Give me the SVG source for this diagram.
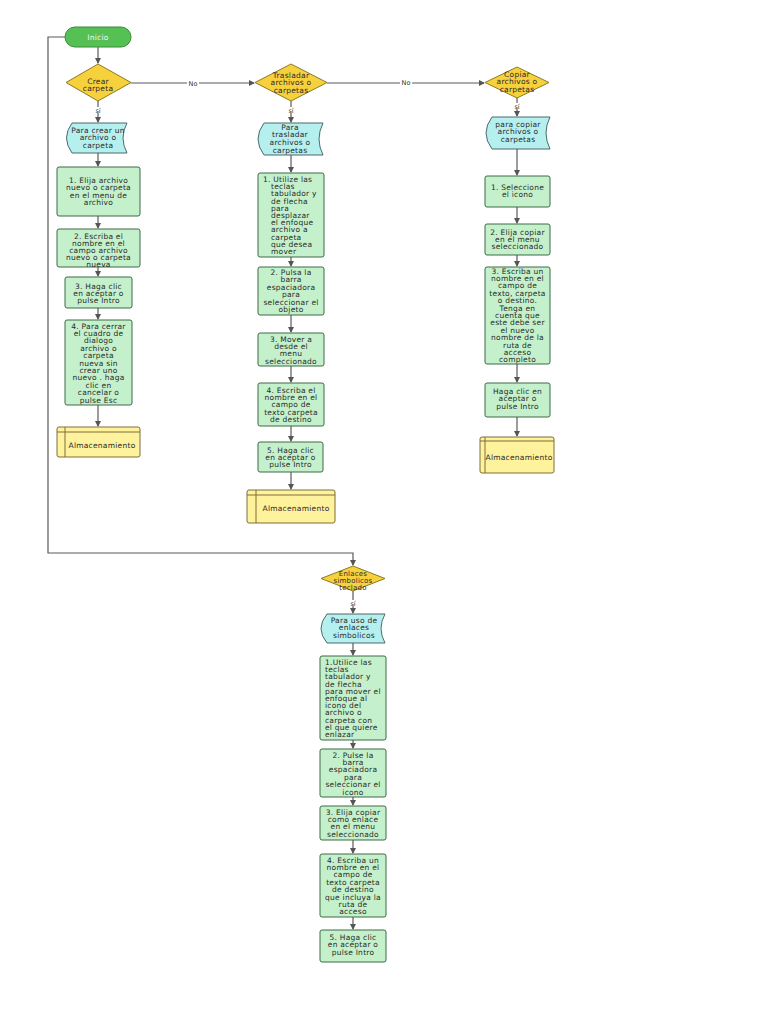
<svg xmlns="http://www.w3.org/2000/svg" width="768" height="1024" viewBox="0 0 768 1024">
<defs>
<marker id="ah" markerWidth="6" markerHeight="6" refX="5" refY="3" orient="auto" markerUnits="userSpaceOnUse">
<path d="M0,0 L6,3 L0,6 Z" fill="#555"/>
</marker>
<style>
.t{font-family:"DejaVu Sans","Liberation Sans",sans-serif;font-size:7.5px;letter-spacing:0.25px;fill:#2a2a2a;text-anchor:middle}
.l{text-anchor:start}
.d{font-size:7px;letter-spacing:0.2px}
.c{fill:none;stroke:#5a5a5a;stroke-width:1.2}
.lab{font-family:"DejaVu Sans","Liberation Sans",sans-serif;font-size:6.5px;fill:#333;text-anchor:middle}
.box{fill:#c4f1cb;stroke:#3e6b46;stroke-width:1}
.doc{fill:#b6f0ee;stroke:#4a6b6b;stroke-width:1}
.dia{fill:#f7d13c;stroke:#8c7a22;stroke-width:1}
.sto{fill:#fff29c;stroke:#7d6f3a;stroke-width:1}
.sl{fill:none;stroke:#7d6f3a;stroke-width:1}
</style>
</defs>
<rect width="768" height="1024" fill="#ffffff"/>

<g id="connectors">
<path class="c" d="M98,47 V63" marker-end="url(#ah)"/>
<path class="c" d="M98,101 V122" marker-end="url(#ah)"/>
<path class="c" d="M98,153 V166" marker-end="url(#ah)"/>
<path class="c" d="M98,216 V228" marker-end="url(#ah)"/>
<path class="c" d="M98,267 V276" marker-end="url(#ah)"/>
<path class="c" d="M98,308 V319" marker-end="url(#ah)"/>
<path class="c" d="M98,405 V426" marker-end="url(#ah)"/>
<path class="c" d="M131,83 H254" marker-end="url(#ah)"/>
<path class="c" d="M291,101 V122" marker-end="url(#ah)"/>
<path class="c" d="M291,155 V172" marker-end="url(#ah)"/>
<path class="c" d="M291,257 V266" marker-end="url(#ah)"/>
<path class="c" d="M291,315 V332" marker-end="url(#ah)"/>
<path class="c" d="M291,366 V382" marker-end="url(#ah)"/>
<path class="c" d="M291,426 V441" marker-end="url(#ah)"/>
<path class="c" d="M291,472 V489" marker-end="url(#ah)"/>
<path class="c" d="M327,83 H484" marker-end="url(#ah)"/>
<path class="c" d="M517,98 V116" marker-end="url(#ah)"/>
<path class="c" d="M517,149 V175" marker-end="url(#ah)"/>
<path class="c" d="M517,207 V223" marker-end="url(#ah)"/>
<path class="c" d="M517,255 V266" marker-end="url(#ah)"/>
<path class="c" d="M517,364 V382" marker-end="url(#ah)"/>
<path class="c" d="M517,417 V436" marker-end="url(#ah)"/>
<path class="c" d="M65,37 H48 V553 H353 V565" marker-end="url(#ah)"/>
<path class="c" d="M353,591 V613" marker-end="url(#ah)"/>
<path class="c" d="M353,643 V655" marker-end="url(#ah)"/>
<path class="c" d="M353,740 V748" marker-end="url(#ah)"/>
<path class="c" d="M353,797 V805" marker-end="url(#ah)"/>
<path class="c" d="M353,840 V853" marker-end="url(#ah)"/>
<path class="c" d="M353,917 V929" marker-end="url(#ah)"/>
<rect x="187" y="80" width="12" height="7" fill="#fff"/>
<text class="lab" x="193" y="85.5">No</text>
<rect x="400" y="79" width="12" height="7" fill="#fff"/>
<text class="lab" x="406" y="84.5">No</text>
<rect x="94" y="107" width="8" height="6" fill="#fff"/>
<text class="lab" x="98" y="112.5">sí</text>
<rect x="287" y="107" width="8" height="6" fill="#fff"/>
<text class="lab" x="291" y="112.5">sí</text>
<rect x="513" y="103" width="8" height="6" fill="#fff"/>
<text class="lab" x="517" y="108.5">sí</text>
<rect x="349" y="600" width="8" height="6" fill="#fff"/>
<text class="lab" x="353" y="605.5">sí</text>
</g>

<g id="inicio">
<rect x="65" y="27" width="66" height="20" rx="10" fill="#55c053" stroke="#3a8c39" stroke-width="1"/>
<text class="t" x="98" y="39.5" style="fill:#f8f8f8">Inicio</text>
</g>

<g id="crear-carpeta">
<polygon class="dia" points="98,64 131,82.5 98,101 66,82.5"/>
<text class="t" x="98" y="83.5">Crear</text>
<text class="t" x="98" y="91">carpeta</text>
</g>

<g id="para-crear">
<path class="doc" d="M72,123 H127 Q119,138 127,153 H72 Q61,138 72,123 Z"/>
<text class="t" x="98" y="132.5">Para crear un</text>
<text class="t" x="98" y="140">archivo o</text>
<text class="t" x="98" y="147.5">carpeta</text>
</g>

<g id="crear-1">
<rect class="box" x="57" y="167" width="83" height="49" rx="2"/>
<text class="t" x="98.5" y="183">1. Elija archivo</text>
<text class="t" x="98.5" y="190.4">nuevo o carpeta</text>
<text class="t" x="98.5" y="197.8">en el menu de</text>
<text class="t" x="98.5" y="205.2">archivo</text>
</g>

<g id="crear-2">
<rect class="box" x="57" y="229" width="83" height="38" rx="2"/>
<text class="t" x="98.5" y="238.5">2. Escriba el</text>
<text class="t" x="98.5" y="245.5">nombre en el</text>
<text class="t" x="98.5" y="252.5">campo archivo</text>
<text class="t" x="98.5" y="259.5">nuevo o carpeta</text>
<text class="t" x="98.5" y="266.5">nueva</text>
</g>

<g id="crear-3">
<rect class="box" x="65" y="277" width="67" height="31" rx="2"/>
<text class="t" x="98.5" y="288.5">3. Haga clic</text>
<text class="t" x="98.5" y="295.9">en aceptar o</text>
<text class="t" x="98.5" y="303.3">pulse Intro</text>
</g>

<g id="crear-4">
<rect class="box" x="65" y="320" width="67" height="85" rx="2"/>
<text class="t" x="98.5" y="328.5">4. Para cerrar</text>
<text class="t" x="98.5" y="335.9">el cuadro de</text>
<text class="t" x="98.5" y="343.3">dialogo</text>
<text class="t" x="98.5" y="350.7">archivo o</text>
<text class="t" x="98.5" y="358.1">carpeta</text>
<text class="t" x="98.5" y="365.5">nueva sin</text>
<text class="t" x="98.5" y="372.9">crear uno</text>
<text class="t" x="98.5" y="380.3">nuevo . haga</text>
<text class="t" x="98.5" y="387.7">clic en</text>
<text class="t" x="98.5" y="395.1">cancelar o</text>
<text class="t" x="98.5" y="402.5">pulse Esc</text>
</g>

<g id="crear-almacenamiento">
<rect class="sto" x="57" y="427" width="83" height="30" rx="2"/>
<path class="sl" d="M65,427 V457 M57,432 H140"/>
<text class="t" x="102" y="447.5">Almacenamiento</text>
</g>

<g id="trasladar">
<polygon class="dia" points="291,64 327,82.5 291,101 255,82.5"/>
<text class="t" x="291" y="77.5">Trasladar</text>
<text class="t" x="291" y="85">archivos o</text>
<text class="t" x="291" y="92.5">carpetas</text>
</g>

<g id="para-trasladar">
<path class="doc" d="M264,123 H323 Q315,139 323,155 H264 Q252,139 264,123 Z"/>
<text class="t" x="290" y="129.8">Para</text>
<text class="t" x="290" y="137.4">trasladar</text>
<text class="t" x="290" y="145">archivos o</text>
<text class="t" x="290" y="152.6">carpetas</text>
</g>

<g id="trasladar-1">
<rect class="box" x="258" y="173" width="66" height="84" rx="2"/>
<text class="t l" x="263" y="182">1. Utilize las</text>
<text class="t l" x="271" y="189.2">teclas</text>
<text class="t l" x="271" y="196.4">tabulador y</text>
<text class="t l" x="271" y="203.6">de flecha</text>
<text class="t l" x="271" y="210.8">para</text>
<text class="t l" x="271" y="218">desplazar</text>
<text class="t l" x="271" y="225.2">el enfoque</text>
<text class="t l" x="271" y="232.4">archivo a</text>
<text class="t l" x="271" y="239.6">carpeta</text>
<text class="t l" x="271" y="246.8">que desea</text>
<text class="t l" x="271" y="254">mover</text>
</g>

<g id="trasladar-2">
<rect class="box" x="258" y="267" width="66" height="48" rx="2"/>
<text class="t" x="291" y="275">2. Pulsa la</text>
<text class="t" x="291" y="282.4">barra</text>
<text class="t" x="291" y="289.8">espaciadora</text>
<text class="t" x="291" y="297.2">para</text>
<text class="t" x="291" y="304.6">seleccionar el</text>
<text class="t" x="291" y="312">objeto</text>
</g>

<g id="trasladar-3">
<rect class="box" x="258" y="333" width="66" height="33" rx="2"/>
<text class="t" x="291" y="341.5">3. Mover a</text>
<text class="t" x="291" y="348.9">desde el</text>
<text class="t" x="291" y="356.3">menu</text>
<text class="t" x="291" y="363.7">seleccionado</text>
</g>

<g id="trasladar-4">
<rect class="box" x="258" y="383" width="66" height="43" rx="2"/>
<text class="t" x="291" y="392.5">4. Escriba el</text>
<text class="t" x="291" y="399.9">nombre en el</text>
<text class="t" x="291" y="407.3">campo de</text>
<text class="t" x="291" y="414.7">texto carpeta</text>
<text class="t" x="291" y="422.1">de destino</text>
</g>

<g id="trasladar-5">
<rect class="box" x="258" y="442" width="65" height="30" rx="2"/>
<text class="t" x="290.5" y="452.5">5. Haga clic</text>
<text class="t" x="290.5" y="459.9">en aceptar o</text>
<text class="t" x="290.5" y="467.3">pulse Intro</text>
</g>

<g id="trasladar-almacenamiento">
<rect class="sto" x="247" y="490" width="88" height="33" rx="2"/>
<path class="sl" d="M256,490 V523 M247,495 H335"/>
<text class="t" x="296" y="511">Almacenamiento</text>
</g>

<g id="copiar">
<polygon class="dia" points="517,67 549,82.5 517,98 485,82.5"/>
<text class="t" x="517" y="76.5">Copiar</text>
<text class="t" x="517" y="84">archivos o</text>
<text class="t" x="517" y="91.5">carpetas</text>
</g>

<g id="para-copiar">
<path class="doc" d="M492,117 H550 Q542,133 550,149 H492 Q480,133 492,117 Z"/>
<text class="t" x="518" y="127">para copiar</text>
<text class="t" x="518" y="134.4">archivos o</text>
<text class="t" x="518" y="141.8">carpetas</text>
</g>

<g id="copiar-1">
<rect class="box" x="485" y="176" width="65" height="31" rx="2"/>
<text class="t" x="517.5" y="190">1. Seleccione</text>
<text class="t" x="517.5" y="197.4">el icono</text>
</g>

<g id="copiar-2">
<rect class="box" x="485" y="224" width="65" height="31" rx="2"/>
<text class="t" x="517.5" y="234.5">2. Elija copiar</text>
<text class="t" x="517.5" y="241.9">en el menu</text>
<text class="t" x="517.5" y="249.3">seleccionado</text>
</g>

<g id="copiar-3">
<rect class="box" x="485" y="267" width="65" height="97" rx="2"/>
<text class="t" x="517.5" y="273.5">3. Escriba un</text>
<text class="t" x="517.5" y="280.9">nombre en el</text>
<text class="t" x="517.5" y="288.3">campo de</text>
<text class="t" x="517.5" y="295.7">texto, carpeta</text>
<text class="t" x="517.5" y="303.1">o destino.</text>
<text class="t" x="517.5" y="310.5">Tenga en</text>
<text class="t" x="517.5" y="317.9">cuenta que</text>
<text class="t" x="517.5" y="325.3">este debe ser</text>
<text class="t" x="517.5" y="332.7">el nuevo</text>
<text class="t" x="517.5" y="340.1">nombre de la</text>
<text class="t" x="517.5" y="347.5">ruta de</text>
<text class="t" x="517.5" y="354.9">acceso</text>
<text class="t" x="517.5" y="362.3">completo</text>
</g>

<g id="copiar-4">
<rect class="box" x="485" y="383" width="65" height="34" rx="2"/>
<text class="t" x="517.5" y="394">Haga clic en</text>
<text class="t" x="517.5" y="401.4">aceptar o</text>
<text class="t" x="517.5" y="408.8">pulse Intro</text>
</g>

<g id="copiar-almacenamiento">
<rect class="sto" x="480" y="437" width="74" height="36" rx="2"/>
<path class="sl" d="M485,437 V473 M480,441 H554"/>
<text class="t" x="519" y="460">Almacenamiento</text>
</g>

<g id="enlaces">
<polygon class="dia" points="353,566 385,578.5 353,591 321,578.5"/>
<text class="t d" x="353" y="575.5">Enlaces</text>
<text class="t d" x="353" y="582.7">simbolicos</text>
<text class="t d" x="353" y="589.9">teclado</text>
</g>

<g id="para-enlaces">
<path class="doc" d="M327,614 H385 Q377,628.5 385,643 H327 Q315,628.5 327,614 Z"/>
<text class="t" x="354" y="623">Para uso de</text>
<text class="t" x="354" y="630.4">enlaces</text>
<text class="t" x="354" y="637.8">simbolicos</text>
</g>

<g id="enlaces-1">
<rect class="box" x="320" y="656" width="66" height="84" rx="2"/>
<text class="t l" x="325" y="665">1.Utilice las</text>
<text class="t l" x="325" y="672.2">teclas</text>
<text class="t l" x="325" y="679.4">tabulador y</text>
<text class="t l" x="325" y="686.6">de flecha</text>
<text class="t l" x="325" y="693.8">para mover el</text>
<text class="t l" x="325" y="701">enfoque al</text>
<text class="t l" x="325" y="708.2">icono del</text>
<text class="t l" x="325" y="715.4">archivo o</text>
<text class="t l" x="325" y="722.6">carpeta con</text>
<text class="t l" x="325" y="729.8">el que quiere</text>
<text class="t l" x="325" y="737">enlazar</text>
</g>

<g id="enlaces-2">
<rect class="box" x="320" y="749" width="66" height="48" rx="2"/>
<text class="t" x="353" y="757.5">2. Pulse la</text>
<text class="t" x="353" y="764.9">barra</text>
<text class="t" x="353" y="772.3">espaciadora</text>
<text class="t" x="353" y="779.7">para</text>
<text class="t" x="353" y="787.1">seleccionar el</text>
<text class="t" x="353" y="794.5">icono</text>
</g>

<g id="enlaces-3">
<rect class="box" x="320" y="806" width="66" height="34" rx="2"/>
<text class="t" x="353" y="814.5">3. Elija copiar</text>
<text class="t" x="353" y="821.9">como enlace</text>
<text class="t" x="353" y="829.3">en el menu</text>
<text class="t" x="353" y="836.7">seleccionado</text>
</g>

<g id="enlaces-4">
<rect class="box" x="320" y="854" width="66" height="63" rx="2"/>
<text class="t" x="353" y="862.5">4. Escriba un</text>
<text class="t" x="353" y="869.9">nombre en el</text>
<text class="t" x="353" y="877.3">campo de</text>
<text class="t" x="353" y="884.7">texto carpeta</text>
<text class="t" x="353" y="892.1">de destino</text>
<text class="t" x="353" y="899.5">que incluya la</text>
<text class="t" x="353" y="906.9">ruta de</text>
<text class="t" x="353" y="914.3">acceso</text>
</g>

<g id="enlaces-5">
<rect class="box" x="320" y="930" width="66" height="32" rx="2"/>
<text class="t" x="353" y="940">5. Haga clic</text>
<text class="t" x="353" y="947.4">en aceptar o</text>
<text class="t" x="353" y="954.8">pulse Intro</text>
</g>
</svg>
